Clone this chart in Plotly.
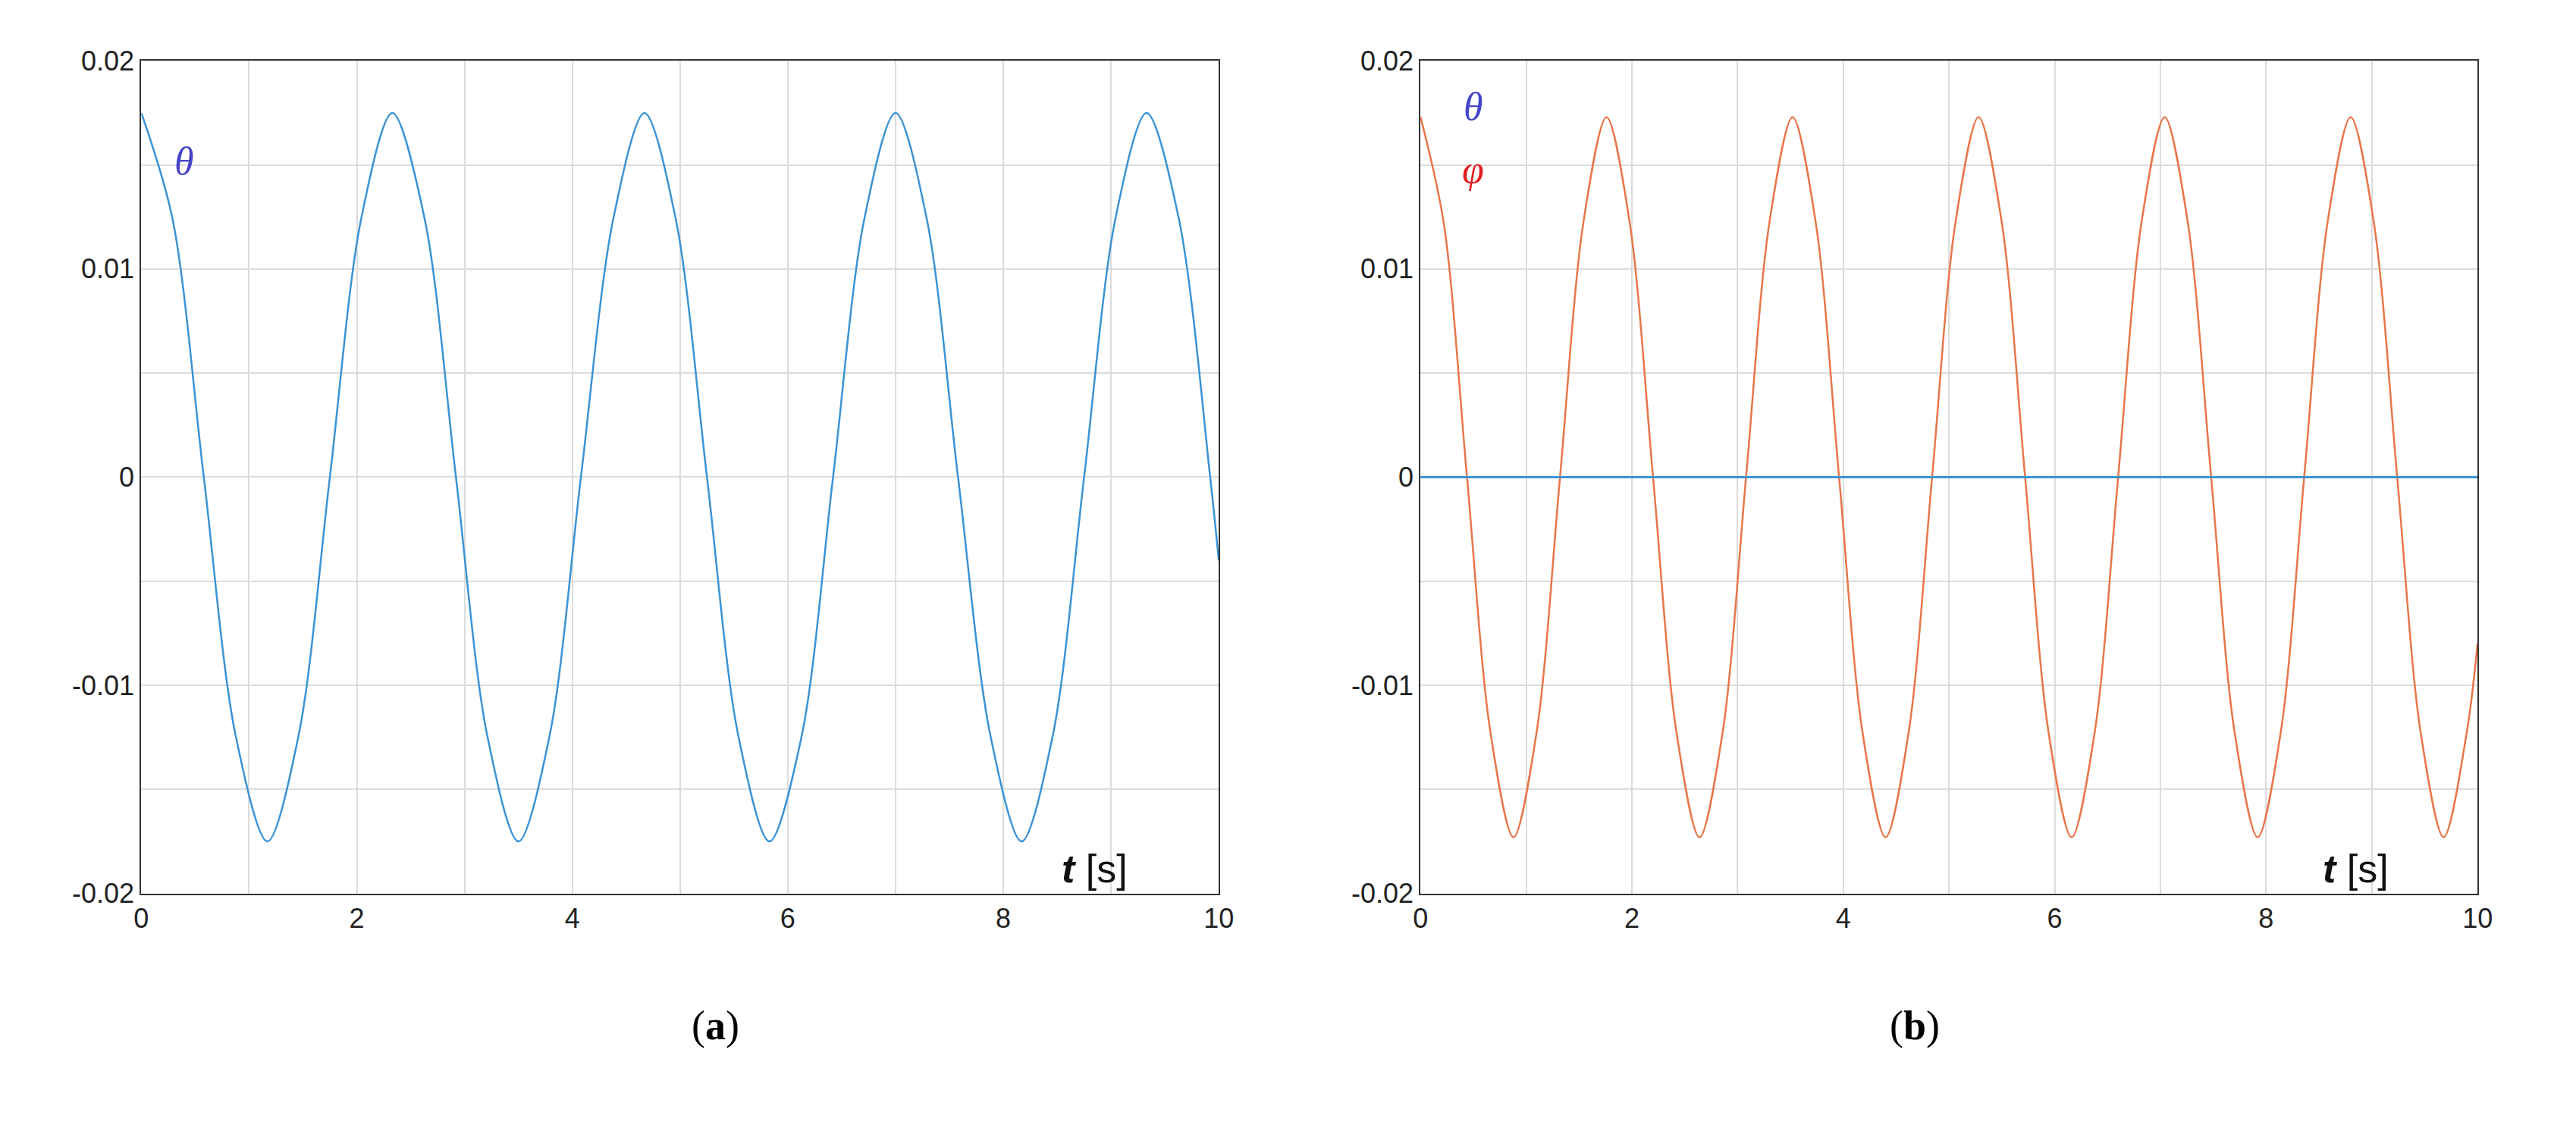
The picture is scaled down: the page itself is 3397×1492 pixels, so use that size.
import plotly.graph_objects as go

# panel (a): theta, points read at eighth-period steps
t_a = [0, 0.29, 0.58, 0.875, 1.17, 1.46, 1.75, 2.04, 2.33, 2.63, 2.92, 3.21, 3.5, 3.79,
       4.08, 4.38, 4.67, 4.96, 5.25, 5.54, 5.83, 6.13, 6.42, 6.71, 7.0, 7.29, 7.58, 7.88,
       8.17, 8.46, 8.75, 9.04, 9.33, 9.63, 9.92, 10]
theta_a = [0.0175, 0.0124, 0, -0.0124, -0.0175, -0.0124, 0, 0.0124,
           0.0175, 0.0124, 0, -0.0124, -0.0175, -0.0124, 0, 0.0124,
           0.0175, 0.0124, 0, -0.0124, -0.0175, -0.0124, 0, 0.0124,
           0.0175, 0.0124, 0, -0.0124, -0.0175, -0.0124, 0, 0.0124,
           0.0175, 0.0124, 0, -0.0040]

# panel (b): phi oscillates, theta stays at zero
t_b = [0, 0.22, 0.44, 0.66, 0.88, 1.1, 1.32, 1.54, 1.76, 1.98, 2.2, 2.42, 2.64, 2.86, 3.08,
       3.3, 3.52, 3.74, 3.96, 4.18, 4.4, 4.62, 4.84, 5.06, 5.28, 5.5, 5.72, 5.94, 6.16, 6.38,
       6.6, 6.82, 7.04, 7.26, 7.48, 7.7, 7.92, 8.14, 8.36, 8.58, 8.8, 9.02, 9.24, 9.46, 9.68,
       9.9, 10]
phi_b = [0.0173, 0.0122, 0, -0.0122, -0.0173, -0.0122, 0, 0.0122,
         0.0173, 0.0122, 0, -0.0122, -0.0173, -0.0122, 0, 0.0122,
         0.0173, 0.0122, 0, -0.0122, -0.0173, -0.0122, 0, 0.0122,
         0.0173, 0.0122, 0, -0.0122, -0.0173, -0.0122, 0, 0.0122,
         0.0173, 0.0122, 0, -0.0122, -0.0173, -0.0122, 0, 0.0122,
         0.0173, 0.0122, 0, -0.0122, -0.0173, -0.0122, -0.0080]
theta_b = [0, 0]
theta_b_t = [0, 10]

x_ticks = [0, 1, 2, 3, 4, 5, 6, 7, 8, 9, 10]
x_text = ["0", "", "2", "", "4", "", "6", "", "8", "", "10"]
y_ticks = [-0.02, -0.015, -0.01, -0.005, 0, 0.005, 0.01, 0.015, 0.02]
y_text = ["-0.02", "", "-0.01", "", "0", "", "0.01", "", "0.02"]

blue = "#3c93d4"
orange = "#e8764a"

fig = go.Figure()
fig.add_trace(go.Scatter(x=t_a, y=theta_a, mode="lines", line=dict(color=blue, width=2.5, shape="spline", smoothing=0.9),
                         xaxis="x", yaxis="y"))
fig.add_trace(go.Scatter(x=t_b, y=phi_b, mode="lines", line=dict(color=orange, width=2.5, shape="spline", smoothing=0.9),
                         xaxis="x2", yaxis="y2"))
fig.add_trace(go.Scatter(x=theta_b_t, y=theta_b, mode="lines", line=dict(color=blue, width=3),
                         xaxis="x2", yaxis="y2"))

ax = dict(showgrid=True, gridcolor="#dcdcdc", gridwidth=1.5, showline=True, linecolor="#333",
          linewidth=2, mirror=True, zeroline=False, tickfont=dict(family="Arial", size=36, color="#222"),
          ticks="")
fig.update_layout(
    width=3397, height=1492, paper_bgcolor="white", plot_bgcolor="white", showlegend=False,
    margin=dict(l=0, r=0, t=0, b=0),
    xaxis=dict(ax, domain=[0.05, 0.472], range=[0, 10], tickvals=x_ticks, ticktext=x_text, anchor="y"),
    yaxis=dict(ax, domain=[0.207, 0.964], range=[-0.02, 0.02], tickvals=y_ticks, ticktext=y_text, anchor="x"),
    xaxis2=dict(ax, domain=[0.551, 0.965], range=[0, 10], tickvals=x_ticks, ticktext=x_text, anchor="y2"),
    yaxis2=dict(ax, domain=[0.207, 0.964], range=[-0.02, 0.02], tickvals=y_ticks, ticktext=y_text, anchor="x2"),
)

lab = dict(showarrow=False, font=dict(family="Liberation Serif", size=52))
fig.add_annotation(lab, x=0.4, y=0.0152, xref="x", yref="y", text="<i>θ</i>", font_color="#4545c8")
fig.add_annotation(lab, x=0.5, y=0.0178, xref="x2", yref="y2", text="<i>θ</i>", font_color="#4545c8")
fig.add_annotation(lab, x=0.5, y=0.0148, xref="x2", yref="y2", text="<i>φ</i>", font_color="#e02020")
st = dict(showarrow=False, font=dict(family="Arial", size=52, color="#111"), yref="y", xanchor="center")
fig.add_annotation(st, x=8.85, y=-0.0188, xref="x", text="<b><i>t</i></b> [s]")
fig.add_annotation(st, x=8.85, y=-0.0188, xref="x2", yref="y2", text="<b><i>t</i></b> [s]")
cap = dict(showarrow=False, font=dict(family="Liberation Serif", size=54, color="black"), xref="paper", yref="paper")
fig.add_annotation(cap, x=0.265, y=0.065, text="(<b>a</b>)")
fig.add_annotation(cap, x=0.755, y=0.065, text="(<b>b</b>)")

fig.write_html("out.html")
